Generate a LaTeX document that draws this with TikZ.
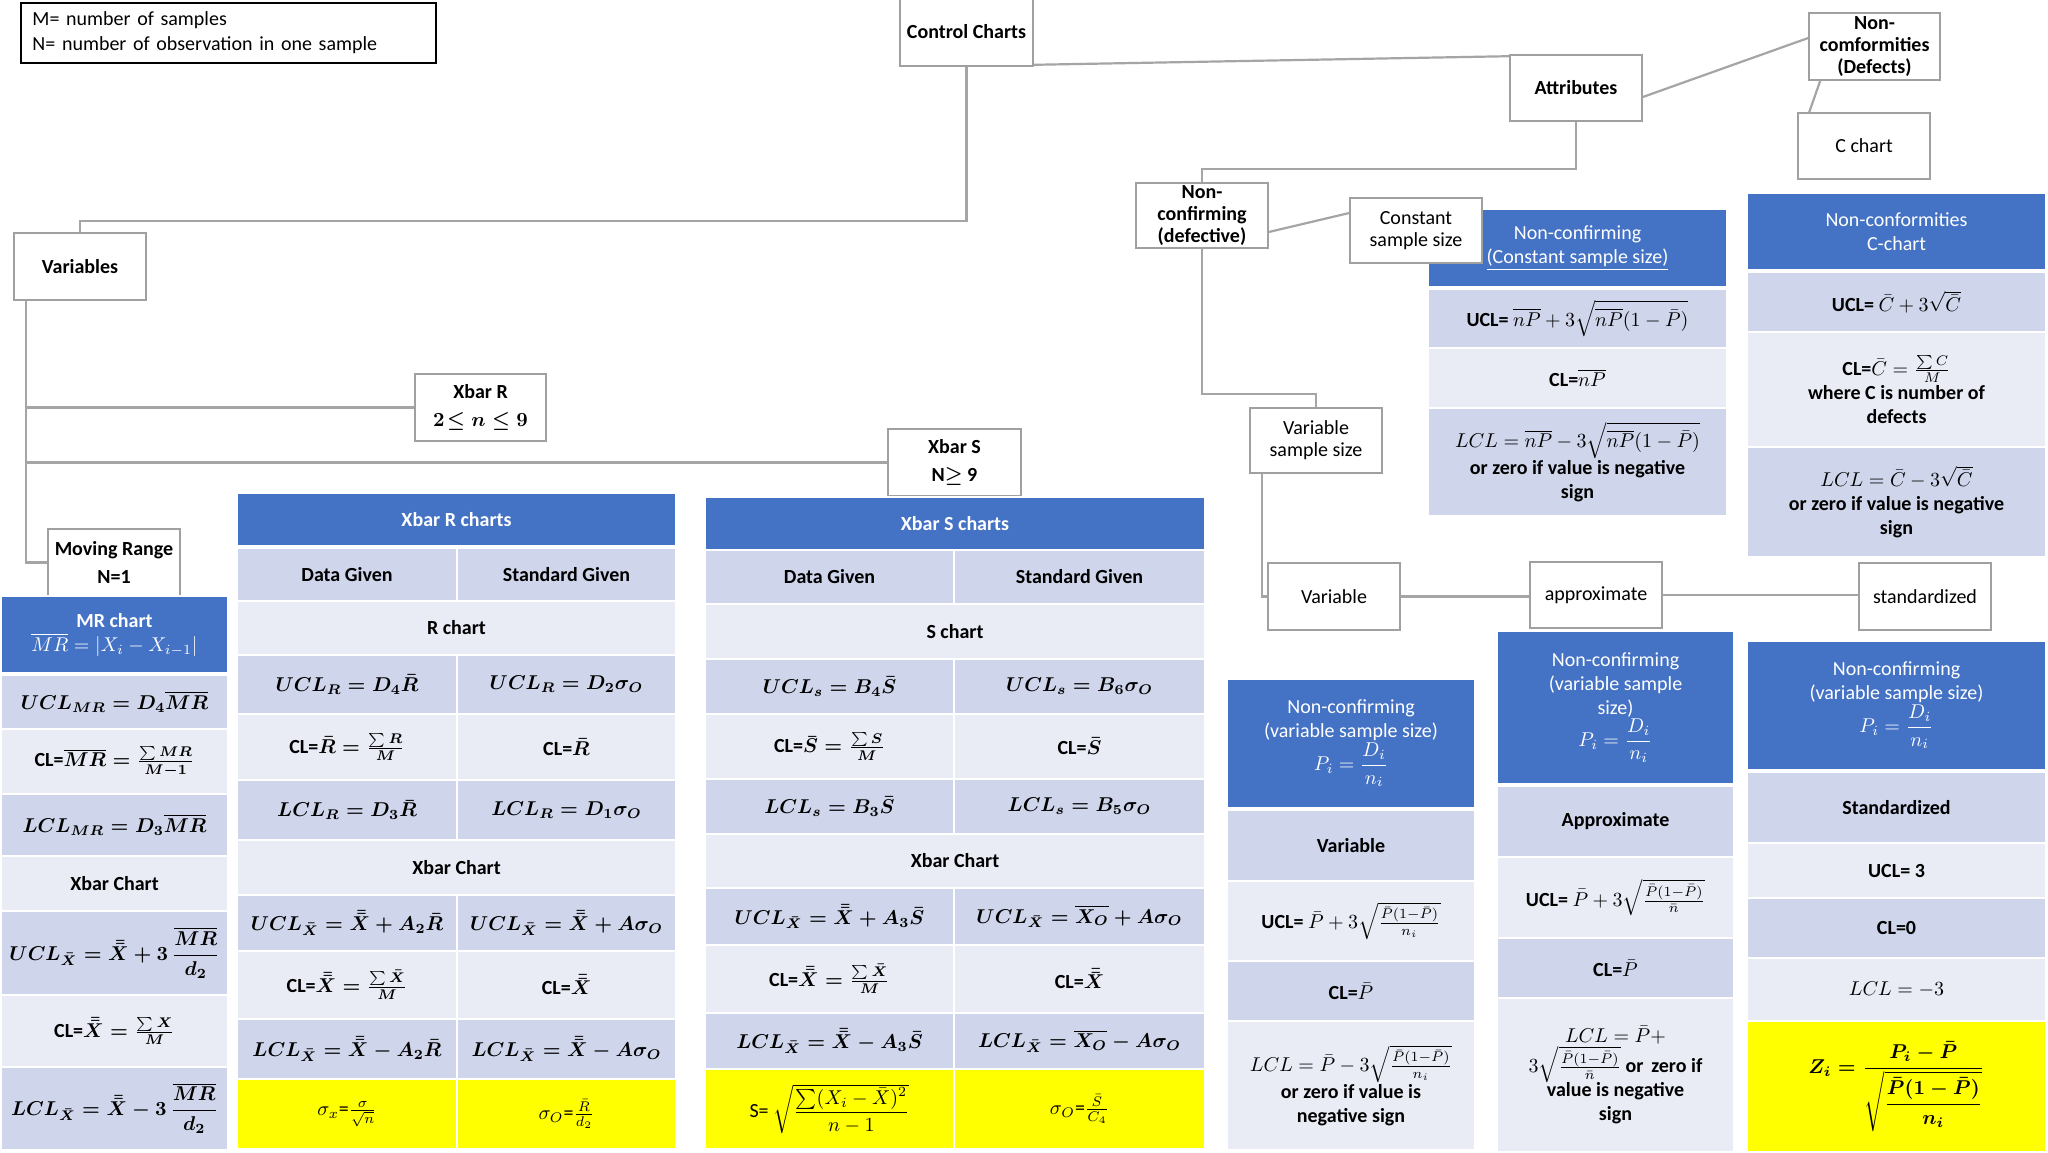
\documentclass[tikz,border=0pt]{standalone}
\usepackage{amsmath}
\usepackage{fontspec}
\setmainfont{Carlito}
\usetikzlibrary{calc}
\definecolor{hdr}{HTML}{4472C4}
\definecolor{rowd}{HTML}{CFD5EA}
\definecolor{rowl}{HTML}{E9EBF5}
\definecolor{yel}{HTML}{FFFF00}
\definecolor{lgray}{HTML}{A5A5A5}
\definecolor{boxgray}{HTML}{A0A0A0}
\pgfdeclarelayer{bg}
\pgfsetlayers{bg,main}
\newcommand\cellbox[7]{%
  \pgfmathsetmacro\cellw{(#5-#3)*0.5}%
  \pgfmathsetmacro\cellh{(#6-#4)*0.5}%
  \node[#2,minimum width=\cellw pt,minimum height=\cellh pt] (#1) at ({(#3+#5)/2},{(#4+#6)/2}) {#7};}
\tikzset{
  cellbase/.style={inner sep=1pt, align=center, draw=white, line width=0.6pt, font=\fontsize{10}{12}\selectfont},
  hd/.style={cellbase, fill=hdr, text=white},
  hdb/.style={hd, font=\fontsize{10}{12}\selectfont\bfseries},
  dk/.style={cellbase, fill=rowd, font=\fontsize{10}{12}\selectfont\bfseries\boldmath},
  lt/.style={cellbase, fill=rowl, font=\fontsize{10}{12}\selectfont\bfseries\boldmath},
  dkr/.style={cellbase, fill=rowd, font=\fontsize{10}{12}\selectfont\bfseries},
  ltr/.style={cellbase, fill=rowl, font=\fontsize{10}{12}\selectfont\bfseries},
  yl/.style={cellbase, fill=yel},
  ylb/.style={cellbase, fill=yel, font=\fontsize{10}{12}\selectfont\bfseries\boldmath},
  box/.style={draw=boxgray, line width=0.8pt, fill=white, align=center, inner sep=1pt, font=\fontsize{10}{11}\selectfont},
  boxb/.style={box, font=\fontsize{10}{11}\selectfont\bfseries},
  conn/.style={draw=lgray, line width=1.1pt},
}
\begin{document}
\begin{tikzpicture}[x=0.5pt,y=-0.5pt]
\useasboundingbox (0,0) rectangle (2048,1152);
\begin{pgfonlayer}{bg}
\fill[white] (0,0) rectangle (2048,1152);
\end{pgfonlayer}

% ---------- legend ----------
\cellbox{legend}{draw=black,line width=0.8pt,fill=white,align=left,text width=196pt,inner sep=0pt,font=\fontsize{10}{12.5}\selectfont}{21}{3}{436}{63}{M= number of samples\\N= number of observation in one sample}

% ---------- tree boxes ----------
\cellbox{cc}{boxb}{900}{-2}{1033}{66}{Control Charts}
\cellbox{attr}{boxb}{1510}{55}{1642}{121}{Attributes}
\cellbox{ncf}{boxb}{1809}{13}{1940}{80}{Non-\\comformities\\(Defects)}
\cellbox{cch}{box}{1798}{113}{1930}{179}{C chart}
\cellbox{ncd}{boxb}{1136}{183}{1268}{248}{Non-\\confirming\\(defective)}
\cellbox{var}{boxb}{14}{233}{146}{300}{Variables}
\cellbox{xr}{boxb}{415}{374}{546}{441}{Xbar R\\[3pt]{\boldmath$2\!\leq n \leq 9$}}
\cellbox{xs}{boxb}{888}{429}{1021}{496}{Xbar S\\[3pt]N{\boldmath$\geq$} 9}
\cellbox{mr}{boxb}{48}{529}{180}{596}{Moving Range\\[3pt]N=1}

% ---------- MR column ----------
\cellbox{mrh}{hd}{1}{596}{228}{673}{\textbf{MR chart}\\$\overline{MR}=|X_i-X_{i-1}|$}
\cellbox{mr1}{dk}{1}{675}{228}{729}{$UCL_{MR}=D_4\overline{MR}$}
\cellbox{mr2}{lt}{1}{729}{228}{794}{CL=$\overline{MR}=\frac{\sum MR}{M-1}$}
\cellbox{mr3}{dk}{1}{794}{228}{856}{$LCL_{MR}=D_3\overline{MR}$}
\cellbox{mr4}{lt}{1}{856}{228}{911}{Xbar Chart}
\cellbox{mr5}{dk}{1}{911}{228}{995}{$UCL_{\bar X}=\bar{\bar X}+3\,\dfrac{\overline{MR}}{d_2}$}
\cellbox{mr6}{lt}{1}{995}{228}{1067}{CL=$\bar{\bar X}=\frac{\sum X}{M}$}
\cellbox{mr7}{dk}{1}{1067}{228}{1150}{$LCL_{\bar X}=\bar{\bar X}-3\,\dfrac{\overline{MR}}{d_2}$}

% ---------- Xbar R ----------
\cellbox{xrh}{hdb}{237}{493}{676}{546}{Xbar R charts}
\cellbox{xr1a}{dk}{237}{548}{457}{601}{Data Given}
\cellbox{xr1b}{dk}{457}{548}{676}{601}{Standard Given}
\cellbox{xr2}{lt}{237}{601}{676}{655}{R chart}
\cellbox{xr3a}{dk}{237}{655}{457}{714}{$UCL_R=D_4\bar R$}
\cellbox{xr3b}{dk}{457}{655}{676}{714}{$UCL_R=D_2\sigma_O$}
\cellbox{xr4a}{lt}{237}{714}{457}{780}{CL=$\bar R=\frac{\sum R}{M}$}
\cellbox{xr4b}{lt}{457}{714}{676}{780}{CL=$\bar R$}
\cellbox{xr5a}{dk}{237}{780}{457}{840}{$LCL_R=D_3\bar R$}
\cellbox{xr5b}{dk}{457}{780}{676}{840}{$LCL_R=D_1\sigma_O$}
\cellbox{xr6}{lt}{237}{840}{676}{895}{Xbar Chart}
\cellbox{xr7a}{dk}{237}{895}{457}{951}{$UCL_{\bar X}=\bar{\bar X}+A_2\bar R$}
\cellbox{xr7b}{dk}{457}{895}{676}{951}{$UCL_{\bar X}=\bar{\bar X}+A\sigma_O$}
\cellbox{xr8a}{lt}{237}{951}{457}{1019}{CL=$\bar{\bar X}=\frac{\sum\bar X}{M}$}
\cellbox{xr8b}{lt}{457}{951}{676}{1019}{CL=$\bar{\bar X}$}
\cellbox{xr9a}{dk}{237}{1019}{457}{1079}{$LCL_{\bar X}=\bar{\bar X}-A_2\bar R$}
\cellbox{xr9b}{dk}{457}{1019}{676}{1079}{$LCL_{\bar X}=\bar{\bar X}-A\sigma_O$}
\cellbox{xr10a}{yl}{237}{1079}{457}{1149}{$\sigma_x$=$\frac{\sigma}{\sqrt{n}}$}
\cellbox{xr10b}{yl}{457}{1079}{676}{1149}{$\sigma_O$=$\frac{\bar R}{d_2}$}

% ---------- Xbar S ----------
\cellbox{xsh}{hdb}{705}{497}{1205}{550}{Xbar S charts}
\cellbox{xs1a}{dk}{705}{550}{954}{604}{Data Given}
\cellbox{xs1b}{dk}{954}{550}{1205}{604}{Standard Given}
\cellbox{xs2}{lt}{705}{604}{1205}{659}{S chart}
\cellbox{xs3a}{dk}{705}{659}{954}{714}{$UCL_s=B_4\bar S$}
\cellbox{xs3b}{dk}{954}{659}{1205}{714}{$UCL_s=B_6\sigma_O$}
\cellbox{xs4a}{lt}{705}{714}{954}{779}{CL=$\bar S=\frac{\sum S}{M}$}
\cellbox{xs4b}{lt}{954}{714}{1205}{779}{CL=$\bar S$}
\cellbox{xs5a}{dk}{705}{779}{954}{834}{$LCL_s=B_3\bar S$}
\cellbox{xs5b}{dk}{954}{779}{1205}{834}{$LCL_s=B_5\sigma_O$}
\cellbox{xs6}{lt}{705}{834}{1205}{888}{Xbar Chart}
\cellbox{xs7a}{dk}{705}{888}{954}{945}{$UCL_{\bar X}=\bar{\bar X}+A_3\bar S$}
\cellbox{xs7b}{dk}{954}{888}{1205}{945}{$UCL_{\bar X}=\overline{X_O}+A\sigma_O$}
\cellbox{xs8a}{lt}{705}{945}{954}{1013}{CL=$\bar{\bar X}=\frac{\sum\bar X}{M}$}
\cellbox{xs8b}{lt}{954}{945}{1205}{1013}{CL=$\bar{\bar X}$}
\cellbox{xs9a}{dk}{705}{1013}{954}{1069}{$LCL_{\bar X}=\bar{\bar X}-A_3\bar S$}
\cellbox{xs9b}{dk}{954}{1013}{1205}{1069}{$LCL_{\bar X}=\overline{X_O}-A\sigma_O$}
\cellbox{xs10a}{yl}{705}{1069}{954}{1149}{S= $\sqrt{\dfrac{\sum(X_i-\bar X)^2}{n-1}}$}
\cellbox{xs10b}{yl}{954}{1069}{1205}{1149}{$\sigma_O$=$\frac{\bar S}{C_4}$}

% ---------- constant sample size ----------
\cellbox{cph}{hd}{1428}{209}{1727}{287}{Non-confirming\\\underline{(Constant sample size)}}
\cellbox{cp1}{dkr}{1428}{289}{1727}{348}{UCL= $\overline{nP}+3\sqrt{\overline{nP}(1-\bar P)}$}
\cellbox{cp2}{ltr}{1428}{348}{1727}{408}{CL=$\overline{nP}$}
\cellbox{cp3}{dkr}{1428}{408}{1727}{516}{$LCL=\overline{nP}-3\sqrt{\overline{nP}(1-\bar P)}$\\or zero if value is negative\\sign}

% ---------- C chart ----------
\cellbox{cth}{hd}{1747}{193}{2046}{270}{Non-conformities\\C-chart}
\cellbox{ct1}{dkr}{1747}{272}{2046}{332}{UCL= $\bar C+3\sqrt{\bar C}$}
\cellbox{ct2}{ltr}{1747}{332}{2046}{447}{CL=$\bar C=\frac{\sum C}{M}$\\where C is number of\\defects}
\cellbox{ct3}{dkr}{1747}{447}{2046}{557}{$LCL=\bar C-3\sqrt{\bar C}$\\or zero if value is negative\\sign}

% ---------- variable ----------
\cellbox{vah}{hd}{1227}{679}{1475}{808}{Non-confirming\\(variable sample size)\\$P_i=\dfrac{D_i}{n_i}$}
\cellbox{va1}{dkr}{1227}{810}{1475}{881}{Variable}
\cellbox{va2}{ltr}{1227}{881}{1475}{961}{UCL= $\bar P+3\sqrt{\frac{\bar P(1-\bar P)}{n_i}}$}
\cellbox{va3}{dkr}{1227}{961}{1475}{1021}{CL=$\bar P$}
\cellbox{va4}{ltr}{1227}{1021}{1475}{1150}{$LCL=\bar P-3\sqrt{\frac{\bar P(1-\bar P)}{n_i}}$\\or zero if value is\\negative sign}

% ---------- approximate ----------
\cellbox{aph}{hd}{1497}{631}{1734}{784}{Non-confirming\\(variable sample\\size)\\$P_i=\dfrac{D_i}{n_i}$}
\cellbox{ap1}{dkr}{1497}{786}{1734}{857}{Approximate}
\cellbox{ap2}{ltr}{1497}{857}{1734}{938}{UCL= $\bar P+3\sqrt{\frac{\bar P(1-\bar P)}{\bar n}}$}
\cellbox{ap3}{dkr}{1497}{938}{1734}{998}{CL=$\bar P$}
\cellbox{ap4}{ltr}{1497}{998}{1734}{1152}{$LCL=\bar P+$\\$3\sqrt{\frac{\bar P(1-\bar P)}{\bar n}}$ or\, zero if\\value is negative\\sign}

% ---------- standardized ----------
\cellbox{sdh}{hd}{1747}{641}{2046}{770}{Non-confirming\\(variable sample size)\\$P_i=\dfrac{D_i}{n_i}$}
\cellbox{sd1}{dkr}{1747}{772}{2046}{843}{Standardized}
\cellbox{sd2}{ltr}{1747}{843}{2046}{898}{UCL= 3}
\cellbox{sd3}{dkr}{1747}{898}{2046}{958}{CL=0}
\cellbox{sd4}{ltr}{1747}{958}{2046}{1021}{$LCL=-3$}
\cellbox{sd5}{ylb}{1747}{1021}{2046}{1152}{$Z_i=\dfrac{P_i-\bar P}{\sqrt{\dfrac{\bar P(1-\bar P)}{n_i}}}$}

% ---------- boxes in the right tree (over headers) ----------
\cellbox{cs}{box}{1350}{198}{1482}{263}{Constant\\sample size}
\cellbox{vss}{box}{1250}{408}{1382}{473}{Variable\\sample size}
\cellbox{vb}{box}{1268}{563}{1400}{630}{Variable}
\cellbox{ap}{box}{1530}{562}{1662}{628}{approximate}
\cellbox{sd}{box}{1859}{563}{1991}{630}{standardized}

% ---------- connectors ----------
\begin{pgfonlayer}{bg}
\draw[conn] ([yshift=1pt]cc.south east) -- ([yshift=-1pt]attr.north west);
\draw[conn] (cc.south) -- ++(0,154) -| (var.north);
\draw[conn] ([yshift=-4.5pt]attr.east) -- ([yshift=4.25pt]ncf.west);
\draw[conn] ([xshift=6pt]ncf.south west) -- ([xshift=6pt]cch.north west);
\draw[conn] (attr.south) -- ++(0,47) -| (ncd.north);
\draw[conn] ([yshift=-8.25pt]ncd.east) -- ([yshift=8.75pt]cs.west);
\draw[conn] (ncd.south) -- ++(0,145) -| (vss.north);
\draw[conn] ([xshift=6.5pt]vss.south west) |- (vb.west);
\draw[conn] (vb.east) -- (vb.east -| ap.west);
\draw[conn] (ap.east) -- (ap.east -| sd.west);
\coordinate (trunk) at ([xshift=6.5pt]var.south west);
\draw[conn] (trunk) |- (xr.west);
\draw[conn] (trunk) |- (xs.west);
\draw[conn] (trunk) |- (mr.west);
\end{pgfonlayer}
\end{tikzpicture}
\end{document}
